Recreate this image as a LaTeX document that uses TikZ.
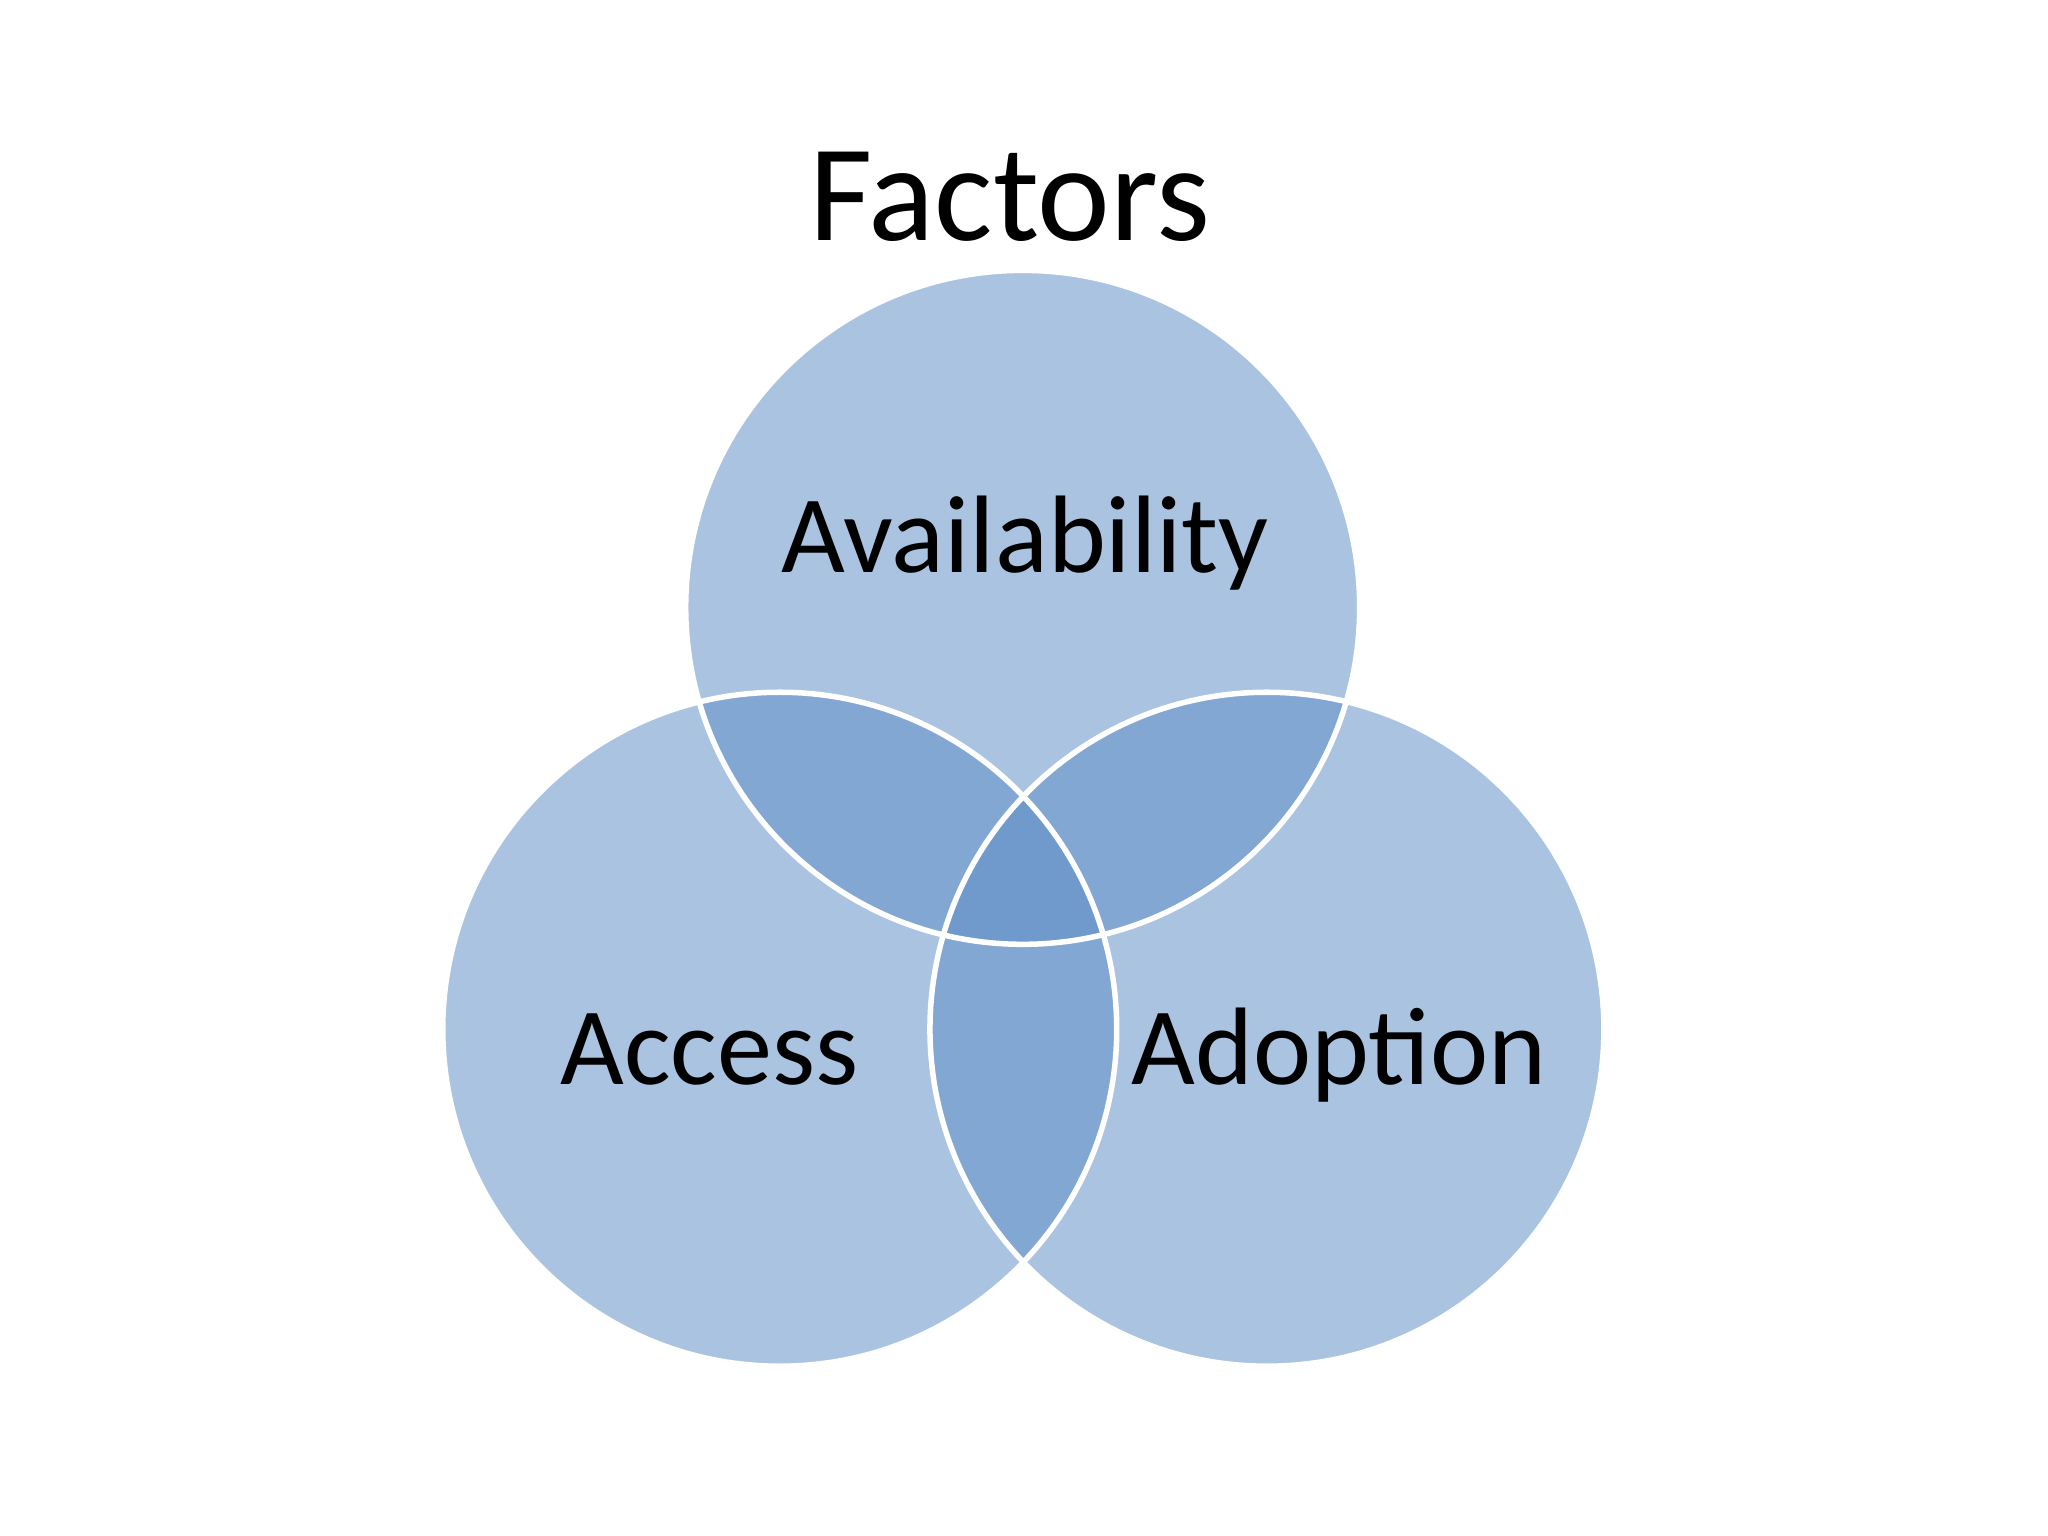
\documentclass[tikz,border=0pt]{standalone}
\usepackage{fontspec}
\setmainfont{Carlito}
\definecolor{vb}{RGB}{95,142,197}
\begin{document}
\begin{tikzpicture}[x=0.01cm,y=-0.01cm,
  venn/.style={circle,minimum size=516\pgflinewidth,inner sep=0pt},
  lbl/.style={anchor=base,font=\fontsize{24}{28}\selectfont}]
\useasboundingbox (0,0) rectangle (1568,1176);
\coordinate (ct) at (783,465);
\coordinate (cl) at (597,788);
\coordinate (cr) at (970,788);
\foreach \c in {ct,cl,cr}{\fill[vb,fill opacity=0.53] (\c) circle (258);}
\foreach \c in {ct,cl,cr}{\draw[white,line width=1.2pt] (\c) circle (258);}
\node[anchor=base,font=\fontsize{30}{36}\selectfont] (title) at (773,184) {Factors};
\node[lbl] (av) at (785,438) {Availability};
\node[lbl] (ac) at (543,830) {Access};
\node[lbl] (ad) at (1025,830) {Adoption};
\end{tikzpicture}
\end{document}
